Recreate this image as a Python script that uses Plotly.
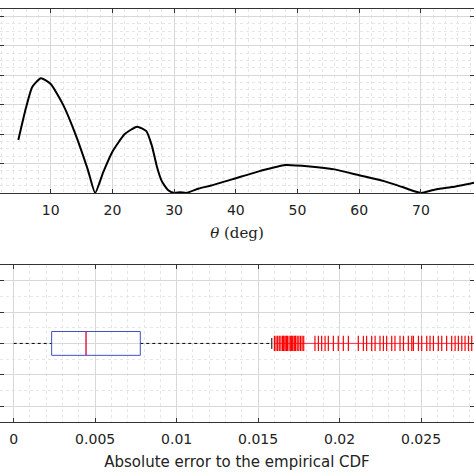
import plotly.graph_objects as go

# top panel: curve vs theta
theta = [4.75, 6, 7, 8.4, 10, 12, 14, 16, 17.2, 18.5, 20, 22, 24, 25.5, 26.4, 27.2, 28, 29, 30, 31, 32,
         34, 36, 40, 44, 48, 52, 56, 60, 64, 67, 70, 72, 75, 78.6]
curve = [0.36, 0.58, 0.72, 0.78, 0.74, 0.60, 0.40, 0.16, 0.0, 0.14, 0.28, 0.40, 0.45, 0.42, 0.32, 0.18,
         0.08, 0.02, 0.0, 0.005, 0.0, 0.03, 0.05, 0.10, 0.15, 0.19, 0.18, 0.16, 0.12, 0.08, 0.04, 0.0,
         0.02, 0.04, 0.07]

# bottom panel: box plot stats and outliers
whisk_lo, q1, med, q3, whisk_hi = 0.0, 0.00233, 0.00444, 0.00777, 0.01584
outliers = [0.0160, 0.0161, 0.0162, 0.0163, 0.0164, 0.0165, 0.01655, 0.0166, 0.0167, 0.01675, 0.0168,
            0.0169, 0.0170, 0.01705, 0.0171, 0.0172, 0.01725, 0.0173, 0.0174, 0.0175, 0.0176, 0.0177,
            0.0178, 0.01849, 0.01870, 0.01890, 0.01911, 0.01931, 0.01962, 0.01992, 0.02023, 0.02054,
            0.02115, 0.02146, 0.02166, 0.02197, 0.02218, 0.02248, 0.02269, 0.02289, 0.02320, 0.02340,
            0.02371, 0.02392, 0.02422, 0.02443, 0.02453, 0.02484, 0.02504, 0.02535, 0.02555, 0.02576,
            0.02606, 0.02627, 0.02657, 0.02688, 0.02709, 0.02729, 0.02750, 0.02770, 0.02791, 0.02811]

fig = go.Figure()
fig.add_trace(go.Scatter(x=theta, y=curve, mode="lines",
                         line=dict(color="black", width=2, shape="spline", smoothing=0.5),
                         xaxis="x", yaxis="y"))

yc = 0.5
hb = 0.076
fig.add_trace(go.Scatter(x=[whisk_lo, q1, None, q3, whisk_hi], y=[yc, yc, None, yc, yc], mode="lines",
                         line=dict(color="black", width=1, dash="3px,3px"), xaxis="x2", yaxis="y2"))
fig.add_trace(go.Scatter(x=[outliers[0], outliers[-1]], y=[yc, yc], mode="lines",
                         line=dict(color="#ff3050", width=1), xaxis="x2", yaxis="y2"))
fig.add_trace(go.Scatter(x=outliers, y=[yc] * len(outliers), mode="markers",
                         marker=dict(symbol="line-ns", size=11, line=dict(color="red", width=1.2)),
                         xaxis="x2", yaxis="y2"))
fig.add_trace(go.Scatter(x=[whisk_hi, whisk_hi], y=[yc - 0.035, yc + 0.035], mode="lines",
                         line=dict(color="black", width=1), xaxis="x2", yaxis="y2"))
fig.add_trace(go.Scatter(x=[q1, q3, q3, q1, q1], y=[yc - hb, yc - hb, yc + hb, yc + hb, yc - hb],
                         mode="lines", line=dict(color="#4050c0", width=1), xaxis="x2", yaxis="y2"))
fig.add_trace(go.Scatter(x=[med, med], y=[yc - hb, yc + hb], mode="lines",
                         line=dict(color="#e0204a", width=1.5), xaxis="x2", yaxis="y2"))

grid = "#d8d8d8"
minor = dict(showgrid=True, gridcolor="#e6e6e6", griddash="dot", ticks="")
common = dict(showline=True, linecolor="#333", mirror="ticks", ticks="inside", ticklen=4,
              tickcolor="#333", gridcolor=grid, zeroline=False, automargin=False,
              tickfont=dict(family="DejaVu Sans", size=14, color="#222"))

fig.update_layout(
    width=474, height=474, margin=dict(l=0, r=0, t=0, b=0, pad=0),
    paper_bgcolor="white", plot_bgcolor="white", showlegend=False,
    xaxis=dict(common, range=[1.78, 78.6], dtick=10, tick0=0, anchor="y",
               minor=dict(minor, dtick=2), ticklabelstandoff=4,
               title=dict(text="<i>θ</i> (deg)", standoff=10,
                          font=dict(family="DejaVu Serif", size=15, color="#222"))),
    yaxis=dict(common, domain=[0.593, 0.981], range=[0, 1.25], dtick=0.2, showticklabels=False,
               anchor="x", minor=dict(minor, dtick=0.05)),
    xaxis2=dict(common, range=[-0.00084, 0.02825], dtick=0.005, tick0=0, anchor="y2",
                tickformat="~g", minor=dict(minor, dtick=0.001), ticklabelstandoff=4,
                title=dict(text="Absolute error to the empirical CDF", standoff=10,
                           font=dict(family="DejaVu Sans", size=15, color="#222"))),
    yaxis2=dict(common, domain=[0.11, 0.441], range=[0, 1], tick0=0.1, dtick=0.2,
                showticklabels=False, anchor="x2", minor=dict(minor, dtick=0.1)),
)

fig.write_html("out.html", config={"displayModeBar": False},
               post_script="document.body.style.margin='0';")
